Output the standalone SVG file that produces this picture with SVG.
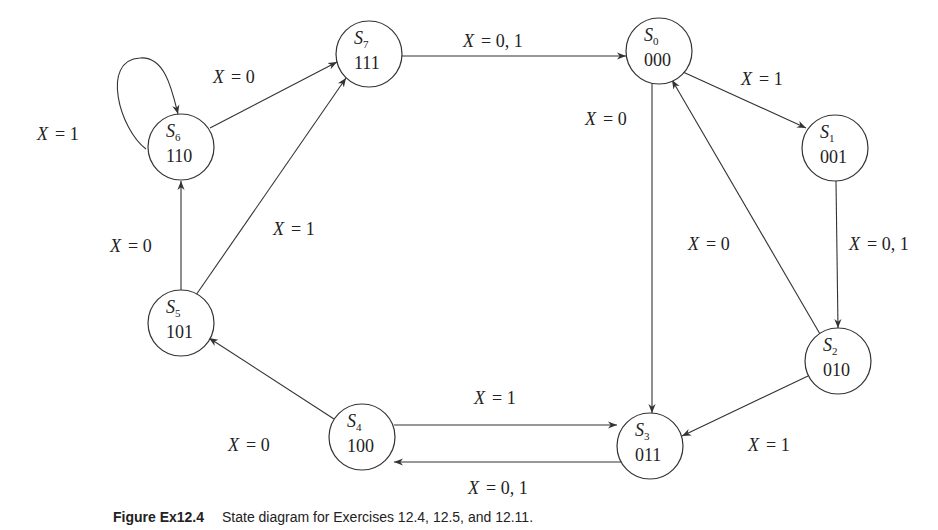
<svg xmlns="http://www.w3.org/2000/svg" width="938" height="530" viewBox="0 0 938 530">
<style>
.n{fill:#fff;stroke:#333;stroke-width:1.2}
.t{font-family:"Liberation Serif",serif;font-size:18px;fill:#222}
.l{font-family:"Liberation Serif",serif;font-size:18px;fill:#222}
.c path,.c line{fill:none;stroke:#333;stroke-width:1.1;marker-end:url(#a)}
</style>
<defs><marker id="a" viewBox="0 0 10 10" refX="10" refY="5" markerWidth="9" markerHeight="9" orient="auto" markerUnits="userSpaceOnUse"><path d="M0,1 L10,5 L0,9 L3,5 z" fill="#333"/></marker></defs>
<rect width="938" height="530" fill="#fff"/>
<g class="c" id="edges">
<path d="M146,149 C120,130 100,60 140,58 C165,56 172,90 178,114"/>
<line x1="210" y1="128" x2="337" y2="62"/>
<line x1="196" y1="295" x2="346" y2="78"/>
<line x1="181" y1="290" x2="181" y2="181"/>
<line x1="402" y1="56" x2="626" y2="56"/>
<line x1="683" y1="72" x2="806" y2="128"/>
<line x1="652" y1="84" x2="652" y2="413"/>
<line x1="836" y1="181" x2="838" y2="328"/>
<line x1="820" y1="334" x2="672" y2="80"/>
<line x1="808" y1="376" x2="682" y2="436"/>
<line x1="394" y1="425" x2="617" y2="425"/>
<line x1="636" y1="462" x2="394" y2="462"/>
<line x1="334" y1="419" x2="209" y2="338"/>
</g>
<g class="l">
<text x="37" y="140" font-style="italic">X</text><text x="55" y="140">= 1</text>
<text x="213" y="83" font-style="italic">X</text><text x="231" y="83">= 0</text>
<text x="273" y="235" font-style="italic">X</text><text x="291" y="235">= 1</text>
<text x="110" y="252" font-style="italic">X</text><text x="128" y="252">= 0</text>
<text x="463" y="47" font-style="italic">X</text><text x="481" y="47">= 0, 1</text>
<text x="741" y="85" font-style="italic">X</text><text x="759" y="85">= 1</text>
<text x="585" y="125" font-style="italic">X</text><text x="603" y="125">= 0</text>
<text x="849" y="250" font-style="italic">X</text><text x="867" y="250">= 0, 1</text>
<text x="688" y="250" font-style="italic">X</text><text x="706" y="250">= 0</text>
<text x="748" y="451" font-style="italic">X</text><text x="766" y="451">= 1</text>
<text x="474" y="404" font-style="italic">X</text><text x="492" y="404">= 1</text>
<text x="228" y="451" font-style="italic">X</text><text x="246" y="451">= 0</text>
<text x="468" y="494" font-style="italic">X</text><text x="486" y="494">= 0, 1</text>
</g>
<g id="S7"><circle class="n" cx="369" cy="54" r="33"/><text class="t" x="354" y="44" font-style="italic">S<tspan font-size="11" font-style="normal" dy="4">7</tspan></text><text class="t" x="354" y="69">111</text></g>
<g id="S0"><circle class="n" cx="659" cy="51" r="33"/><text class="t" x="644" y="41" font-style="italic">S<tspan font-size="11" font-style="normal" dy="4">0</tspan></text><text class="t" x="644" y="66">000</text></g>
<g id="S1"><circle class="n" cx="835" cy="148" r="33"/><text class="t" x="820" y="138" font-style="italic">S<tspan font-size="11" font-style="normal" dy="4">1</tspan></text><text class="t" x="820" y="163">001</text></g>
<g id="S2"><circle class="n" cx="838" cy="361" r="33"/><text class="t" x="823" y="351" font-style="italic">S<tspan font-size="11" font-style="normal" dy="4">2</tspan></text><text class="t" x="823" y="376">010</text></g>
<g id="S3"><circle class="n" cx="650" cy="446" r="33"/><text class="t" x="635" y="436" font-style="italic">S<tspan font-size="11" font-style="normal" dy="4">3</tspan></text><text class="t" x="635" y="461">011</text></g>
<g id="S4"><circle class="n" cx="362" cy="437" r="33"/><text class="t" x="347" y="427" font-style="italic">S<tspan font-size="11" font-style="normal" dy="4">4</tspan></text><text class="t" x="347" y="452">100</text></g>
<g id="S5"><circle class="n" cx="181" cy="323" r="33"/><text class="t" x="166" y="313" font-style="italic">S<tspan font-size="11" font-style="normal" dy="4">5</tspan></text><text class="t" x="166" y="338">101</text></g>
<g id="S6"><circle class="n" cx="181" cy="147" r="33"/><text class="t" x="166" y="137" font-style="italic">S<tspan font-size="11" font-style="normal" dy="4">6</tspan></text><text class="t" x="166" y="162">110</text></g>
<text x="113" y="522" font-family="Liberation Sans,sans-serif" font-size="14" font-weight="bold" fill="#222">Figure Ex12.4</text>
<text x="222" y="522" font-family="Liberation Sans,sans-serif" font-size="14" fill="#222">State diagram for Exercises 12.4, 12.5, and 12.11.</text>
</svg>
